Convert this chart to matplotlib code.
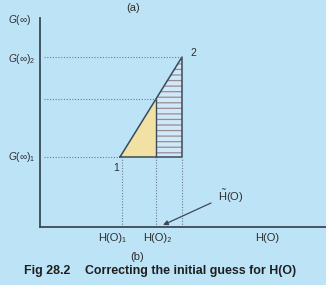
import matplotlib
matplotlib.use("Agg")
import matplotlib.pyplot as plt

plt.rcParams['font.family'] = ['Liberation Sans', 'DejaVu Sans']
plt.rcParams['mathtext.fontset'] = 'custom'
plt.rcParams['mathtext.rm'] = 'Liberation Sans'
plt.rcParams['mathtext.it'] = 'Liberation Sans:italic'
plt.rcParams['hatch.linewidth'] = 0.9

# Data (arbitrary units, origin at axis corner)
H_1 = 80       # H(O)_1, initial guess
H_mid = 116    # H(O)_2, corrected guess
H_2 = 142      # right edge of hatched area
G_1 = 70       # G(inf)_1
G_mid = 128
G_2 = 170      # G(inf)_2
x_max = 286
y_max = 209
arrow_tip = (123, 2)
arrow_tail = (171, 24)

bg = '#bde3f7'
line_col = '#3c4a56'
dot_col = '#6b7d8c'
txt = '#2e2e2e'

fig = plt.figure(figsize=(3.26, 2.85), dpi=100, facecolor=bg)
ax = fig.add_axes([40 / 326, 58 / 285, x_max / 326, y_max / 285], facecolor=bg)
ax.set_xlim(0, x_max)
ax.set_ylim(0, y_max)
for s in ['top', 'right']:
    ax.spines[s].set_visible(False)
for s in ['left', 'bottom']:
    ax.spines[s].set_color(line_col)
    ax.spines[s].set_linewidth(1.3)
ax.set_xticks([])
ax.set_yticks([])

# shaded areas
ax.fill_between([H_1, H_mid], [G_1, G_mid], G_1, color='#f1e1a2', lw=0)
ax.fill_between([H_mid, H_2], [G_mid, G_2], G_1, color='#cfe9f8', lw=0)
ax.fill_between([H_mid, H_2], [G_mid, G_2], G_1, facecolor='none',
                edgecolor='#9c8a94', lw=0, hatch='---')

# outline
ax.plot([H_1, H_2, H_2, H_1], [G_1, G_2, G_1, G_1], color=line_col, lw=1.1)
ax.plot([H_mid, H_mid], [G_1, G_mid], color=line_col, lw=1.0)

# dotted guides
for g, h in [(G_2, H_2), (G_mid, H_mid), (G_1, H_1)]:
    ax.plot([4, h], [g, g], ls=(0, (1, 1.5)), color=dot_col, lw=0.8)
for h in [H_1 + 2, H_mid, H_2]:
    ax.plot([h, h], [0, G_1], ls=(0, (1, 1.5)), color=dot_col, lw=0.8)

# labels
ax.text(-32, y_max - 2, r'$G$(∞)', fontsize=7.3, color=txt, va='center')
ax.text(-32, G_2 - 2, r'$G$(∞)$_2$', fontsize=7.3, color=txt, va='center')
ax.text(-32, G_1, r'$G$(∞)$_1$', fontsize=7.3, color=txt, va='center')
ax.text(H_1 - 4, G_1 - 11, '1', fontsize=7.5, color=txt, ha='center', va='center')
ax.text(H_2 + 11, G_2 + 4, '2', fontsize=7.5, color=txt, ha='center', va='center')

ax.text(H_1 - 8, -11, 'H(O)₁', fontsize=8, color=txt, ha='center', va='center')
ax.text(H_mid + 1, -11, 'H(O)₂', fontsize=8, color=txt, ha='center', va='center')
ax.text(227, -11, 'H(O)', fontsize=8, color=txt, ha='center', va='center')

ax.annotate('', xy=arrow_tip, xytext=arrow_tail,
            arrowprops=dict(arrowstyle='-|>', color=line_col, lw=0.9,
                            mutation_scale=7, shrinkA=0, shrinkB=0))
ax.text(178, 31, r'$\tilde{\mathrm{H}}$(O)', fontsize=8, color=txt,
        ha='left', va='center')

fig.text(133 / 326, 1 - 8 / 285, '(a)', fontsize=8, color=txt, ha='center', va='center')
fig.text(137 / 326, 1 - 257 / 285, '(b)', fontsize=8, color=txt, ha='center', va='center')
fig.text(24 / 326, 1 - 271 / 285, 'Fig 28.2', fontsize=8.9, fontweight='bold',
         color='#1e1e1e', ha='left', va='center')
fig.text(85 / 326, 1 - 271 / 285, 'Correcting the initial guess for H(O)', fontsize=8.9,
         fontweight='bold', color='#1e1e1e', ha='left', va='center')

fig.savefig('out.png', dpi=100, facecolor=bg)
